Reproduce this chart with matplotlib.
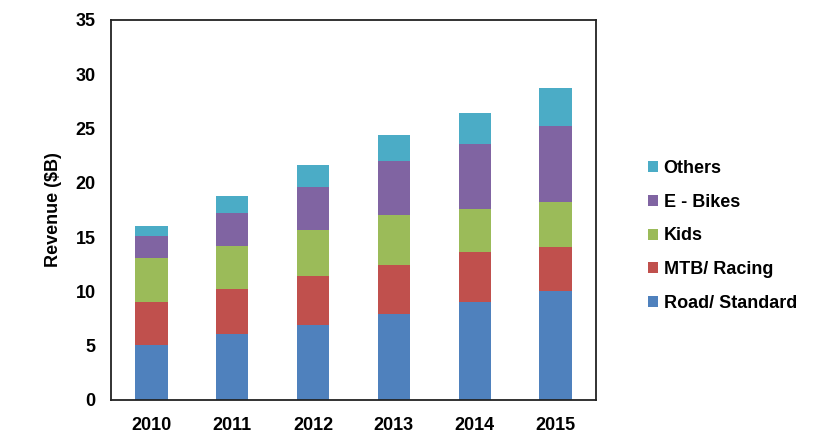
import matplotlib.pyplot as plt
import numpy as np

plt.rcParams['font.family'] = ['Liberation Sans', 'DejaVu Sans']
plt.rcParams['font.weight'] = 'bold'

years = ['2010', '2011', '2012', '2013', '2014', '2015']
road = [5.1, 6.05, 6.9, 7.9, 9.0, 10.0]
mtb = [3.9, 4.15, 4.5, 4.5, 4.6, 4.1]
kids = [4.1, 3.95, 4.25, 4.6, 4.0, 4.15]
ebikes = [2.05, 3.05, 3.95, 5.0, 5.95, 7.0]
others = [0.9, 1.6, 2.05, 2.4, 2.9, 3.45]

series = [
    ('Road/ Standard', road, '#4F81BD'),
    ('MTB/ Racing', mtb, '#C0504D'),
    ('Kids', kids, '#9BBB59'),
    ('E - Bikes', ebikes, '#8064A2'),
    ('Others', others, '#4BACC6'),
]

fig = plt.figure(figsize=(8.14, 4.43), dpi=100)
ax = fig.add_axes([111 / 814, 1 - 400 / 443, 485 / 814, 380 / 443])

x = np.arange(len(years))
bottom = np.zeros(len(years))
for name, vals, color in series:
    ax.bar(x, vals, width=0.4, bottom=bottom, color=color, label=name)
    bottom += np.array(vals)

ax.set_xlim(-0.5, len(years) - 0.5)
ax.set_ylim(0, 35)
ax.set_yticks(range(0, 36, 5))
ax.set_xticks(x)
ax.set_xticklabels(years)
ax.tick_params(length=0, labelsize=13)
ax.tick_params(axis='x', pad=12)
ax.tick_params(axis='y', pad=11)
for s in ax.spines.values():
    s.set_linewidth(1.3)
    s.set_color('#222222')
ax.set_ylabel('Revenue ($B)', fontsize=13, fontweight='bold', labelpad=10)

handles, labels = ax.get_legend_handles_labels()
fig.legend(handles[::-1], labels[::-1], loc='center left',
           bbox_to_anchor=(632 / 814, 1 - 236 / 443), frameon=False,
           fontsize=13, handlelength=0.55, handleheight=0.55,
           handletextpad=0.3, labelspacing=0.93)

fig.savefig('out.png', dpi=100)
